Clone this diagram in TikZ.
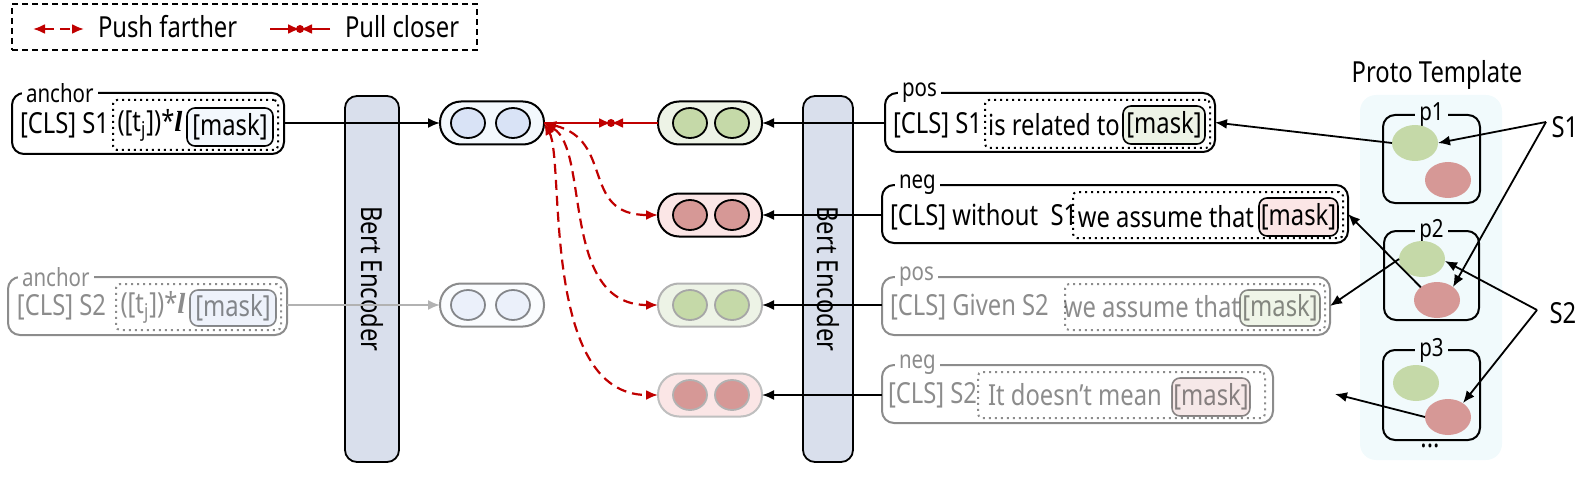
\documentclass[tikz,border=0pt]{standalone}
\usepackage{fontspec}
\setmainfont[FakeStretch=0.82]{Noto Sans}
\newfontfamily\serifl{Liberation Serif}
\usetikzlibrary{arrows.meta,calc,shapes.geometric}
\definecolor{rd}{HTML}{C00000}
\definecolor{bluef}{HTML}{D9E3F6}
\definecolor{bertf}{HTML}{D9DFEC}
\definecolor{grf}{HTML}{C5D9A8}
\definecolor{rf}{HTML}{D69896}
\definecolor{grp}{HTML}{EDF3E6}
\definecolor{rp}{HTML}{FBE6E6}
\definecolor{bp}{HTML}{F3F8FD}
\definecolor{panel}{HTML}{F1FAFC}
\newcommand\bx[6]{\node[#1,minimum width={(#4-#2)*0.5pt},minimum height={(#5-#3)*0.5pt}] (#6) at ({(#2+#4)/2},{(#3+#5)/2}) {};}
\newcommand\ellsym{{\serifl\bfseries\itshape l}}
\tikzset{
  every node/.style={inner sep=0pt,outer sep=0pt},
  outer/.style={draw,rounded corners=6pt,line width=1pt},
  dotb/.style={draw,dotted,line width=1pt,rounded corners=2pt},
  mask/.style={draw,rounded corners=4pt,line width=0.8pt},
  txt/.style={font=\fontsize{14.5}{16}\selectfont},
  lab/.style={font=\fontsize{12.5}{14}\selectfont,fill=white,inner xsep=2pt},
  pill/.style={draw,rounded corners=10.5pt,line width=1pt,minimum width=52pt,minimum height=21.5pt},
  blob/.style={draw,ellipse,line width=0.9pt,minimum width=17pt,minimum height=15pt},
  pblob/.style={ellipse,minimum width=23pt,minimum height=18pt},
  arr/.style={-{Latex[length=6pt,width=5pt]},line width=0.9pt},
  push/.style={{Latex[length=6pt,width=5pt]}-{Latex[length=6pt,width=5pt]},rd,dashed,line width=1.1pt,dash pattern=on 5pt off 3pt},
  pull/.style={-{Latex[length=6pt,width=5pt]},rd,line width=1.1pt},
  fade/.style={opacity=0.45},
  bert/.style={draw,fill=bertf,rounded corners=6pt,line width=0.9pt},
}
\begin{document}
\begin{tikzpicture}[x=0.5pt,y=-0.5pt]
\useasboundingbox (0,0) rectangle (1580,481);
% legend
\bx{draw,dashed,line width=0.8pt,dash pattern=on 3pt off 2pt}{12}{4}{477}{50}{leg}
\coordinate (l1a) at (33,29); \coordinate (l1b) at (84,29);
\draw[push] (l1a) -- (l1b);
\node[txt,anchor=west] (ltx1) at (98,27) {Push farther};
\coordinate (l2a) at (270,29); \coordinate (l2b) at (330,29); \coordinate (l2d) at (300,29);
\draw[pull] (l2a) -- (l2d); \draw[pull] (l2b) -- (l2d);
\fill[rd] (l2d) circle (2pt);
\node[txt,anchor=west] (ltx2) at (345,27) {Pull closer};
% Bert encoders
\bx{bert}{345}{96}{399}{462}{bert1}
\node[txt,rotate=-90] (bt1) at (bert1) {Bert Encoder};
\bx{bert}{803}{96}{853}{462}{bert2}
\node[txt,rotate=-90] (bt2) at (bert2) {Bert Encoder};
% anchor 1
\bx{outer}{12}{93}{284}{154}{a1}
\node[lab,anchor=west] (a1l) at (22,93) {anchor};
\bx{dotb}{113}{100}{278}{150}{a1d}
\bx{mask,fill=bp}{187}{108}{273}{146}{a1m}
\node[txt] at (a1m) {[mask]};
\node[txt,anchor=west] (a1t) at (20,125) {[CLS] S1};
\node[txt] (a1x) at (150,125) {([t\textsubscript{j}])*\ellsym};
% anchor 2 faded
\begin{scope}[fade]
\bx{outer}{8}{277}{287}{335}{a2}
\bx{dotb}{116}{284}{281}{330}{a2d}
\bx{mask,fill=bluef}{190}{290}{276}{326}{a2m}
\node[txt] at (a2m) {[mask]};
\node[txt,anchor=west] (a2t) at (17,307) {[CLS] S2};
\node[txt] (a2x) at (153,307) {([t\textsubscript{j}])*\ellsym};
\end{scope}
\node[lab,anchor=west,text opacity=0.45] (a2l) at (18,277) {anchor};
% pos 1
\bx{outer}{885}{93}{1215}{152}{p1b}
\node[lab,anchor=west] (p1l) at (898,93) {pos};
\bx{dotb}{985}{100}{1210}{148}{p1d}
\bx{mask,fill=grp}{1123}{106}{1205}{144}{p1m}
\node[txt] at (p1m) {[mask]};
\node[txt,anchor=west] (p1t) at (893,125) {[CLS] S1};
\node[txt] (p1x) at (1054,125) {is related to};
% neg 1
\bx{outer}{882}{185}{1348}{243}{n1b}
\node[lab,anchor=west] (n1l) at (895,185) {neg};
\bx{dotb}{1073}{192}{1343}{238}{n1d}
\bx{mask,fill=rp}{1259}{198}{1338}{236}{n1m}
\node[txt] at (n1m) {[mask]};
\node[txt,anchor=west] (n1t) at (890,217) {[CLS] without\ \ S1};
\node[txt] (n1x) at (1166,217) {we assume that};
% pos 2 faded
\begin{scope}[fade]
\bx{outer}{882}{277}{1330}{335}{p2b}
\bx{dotb}{1065}{284}{1325}{330}{p2d}
\bx{mask,fill=grf!60}{1240}{290}{1320}{326}{p2m}
\node[txt] at (p2m) {[mask]};
\node[txt,anchor=west] (p2t) at (890,307) {[CLS] Given S2};
\node[txt] (p2x) at (1152,307) {we assume that};
% neg 2 faded
\bx{outer}{882}{365}{1273}{423}{n2b}
\bx{dotb}{978}{372}{1265}{418}{n2d}
\bx{mask,fill=rf!50}{1172}{378}{1250}{416}{n2m}
\node[txt] at (n2m) {[mask]};
\node[txt,anchor=west] (n2t) at (888,395) {[CLS] S2};
\node[txt] (n2x) at (1075,395) {It doesn't mean};
\end{scope}
\node[lab,anchor=west,text opacity=0.45] (p2l) at (895,277) {pos};
\node[lab,anchor=west,text opacity=0.45] (n2l) at (895,365) {neg};
% pills
\node[pill,fill=bp] (e1) at (492,123) {};
\node[blob,fill=bluef] at (468,123) {}; \node[blob,fill=bluef] at (513,123) {};
\begin{scope}[fade]
\node[pill,fill=bp] (e2) at (492,305) {};
\node[blob,fill=bluef] at (468,305) {}; \node[blob,fill=bluef] at (513,305) {};
\end{scope}
\node[pill,fill=grp] (g1) at (710,123) {};
\node[blob,fill=grf] at (690,123) {}; \node[blob,fill=grf] at (732,123) {};
\node[pill,fill=rp] (r1) at (710,215) {};
\node[blob,fill=rf] at (690,215) {}; \node[blob,fill=rf] at (732,215) {};
\node[pill,fill=grp,draw=black!30] (g2) at (710,305) {};
\node[blob,fill=grf,draw=black!35] at (690,305) {}; \node[blob,fill=grf,draw=black!35] at (732,305) {};
\node[pill,fill=rp,draw=black!25] (r2) at (710,395) {};
\node[blob,fill=rf,draw=black!30] at (690,395) {}; \node[blob,fill=rf,draw=black!30] at (732,395) {};
% encoder arrows
\draw[arr] (a1.east|-e1) -- (e1.west);
\draw[arr,black!30] (a2.east|-e2) -- (e2.west);
\draw[arr] (p1b.west|-g1) -- (g1.east);
\draw[arr] (n1b.west|-r1) -- (r1.east);
\draw[arr] (p2b.west|-g2) -- (g2.east);
\draw[arr] (n2b.west|-r2) -- (r2.east);
% pull / push
\coordinate (pd) at (611,123);
\draw[pull] (e1.east) -- (pd); \draw[pull] (g1.west) -- (pd);
\fill[rd] (pd) circle (2pt);
\draw[push] (e1.east) .. controls (615,140) and (580,215) .. (r1.west);
\draw[push] (e1.east) .. controls (590,150) and (560,305) .. (g2.west);
\draw[push] (e1.east) .. controls (565,160) and (540,395) .. (r2.west);
% proto template
\node[txt] (pt) at (1437,75) {Proto Template};
\bx{fill=panel,rounded corners=8pt}{1360}{95}{1502}{460}{panelbox}
\bx{outer}{1383}{115}{1480}{203}{pb1}
\bx{outer}{1384}{231}{1479}{320}{pb2}
\bx{outer}{1383}{350}{1480}{440}{pb3}
\node[lab,fill=panel] at (pb1.north) {p1};
\node[lab,fill=panel] at (pb2.north) {p2};
\node[lab,fill=panel] at (pb3.north) {p3};
\node[pblob,fill=grf] (g1p) at (1415,143) {};
\node[pblob,fill=rf] (r1p) at (1448,180) {};
\node[pblob,fill=grf] (g2p) at (1422,259) {};
\node[pblob,fill=rf] (r2p) at (1437,300) {};
\node[pblob,fill=grf] (g3p) at (1416,383) {};
\node[pblob,fill=rf] (r3p) at (1448,417) {};
\node[txt] (dots) at (1430,446) {...};
\node[txt] (s1) at (1565,127) {S1};
\node[txt] (s2) at (1563,313) {S2};
\coordinate (v1) at (1546,122);
\coordinate (v2) at (1537,310);
\draw[arr] (v1) -- (g1p.east);
\draw[arr] (v1) -- (1453,287);
\draw[arr] (v2) -- (1445,261);
\draw[arr] (v2) -- (1463,403);
\coordinate (n2e) at (1335,394);
\draw[arr] (g1p.west) -- (p1b.east);
\draw[arr] (r2p.north west) -- (n1b.east);
\draw[arr] (g2p.west) -- (p2b.east);
\draw[arr] (r3p.west) -- (n2e);
\end{tikzpicture}
\end{document}
